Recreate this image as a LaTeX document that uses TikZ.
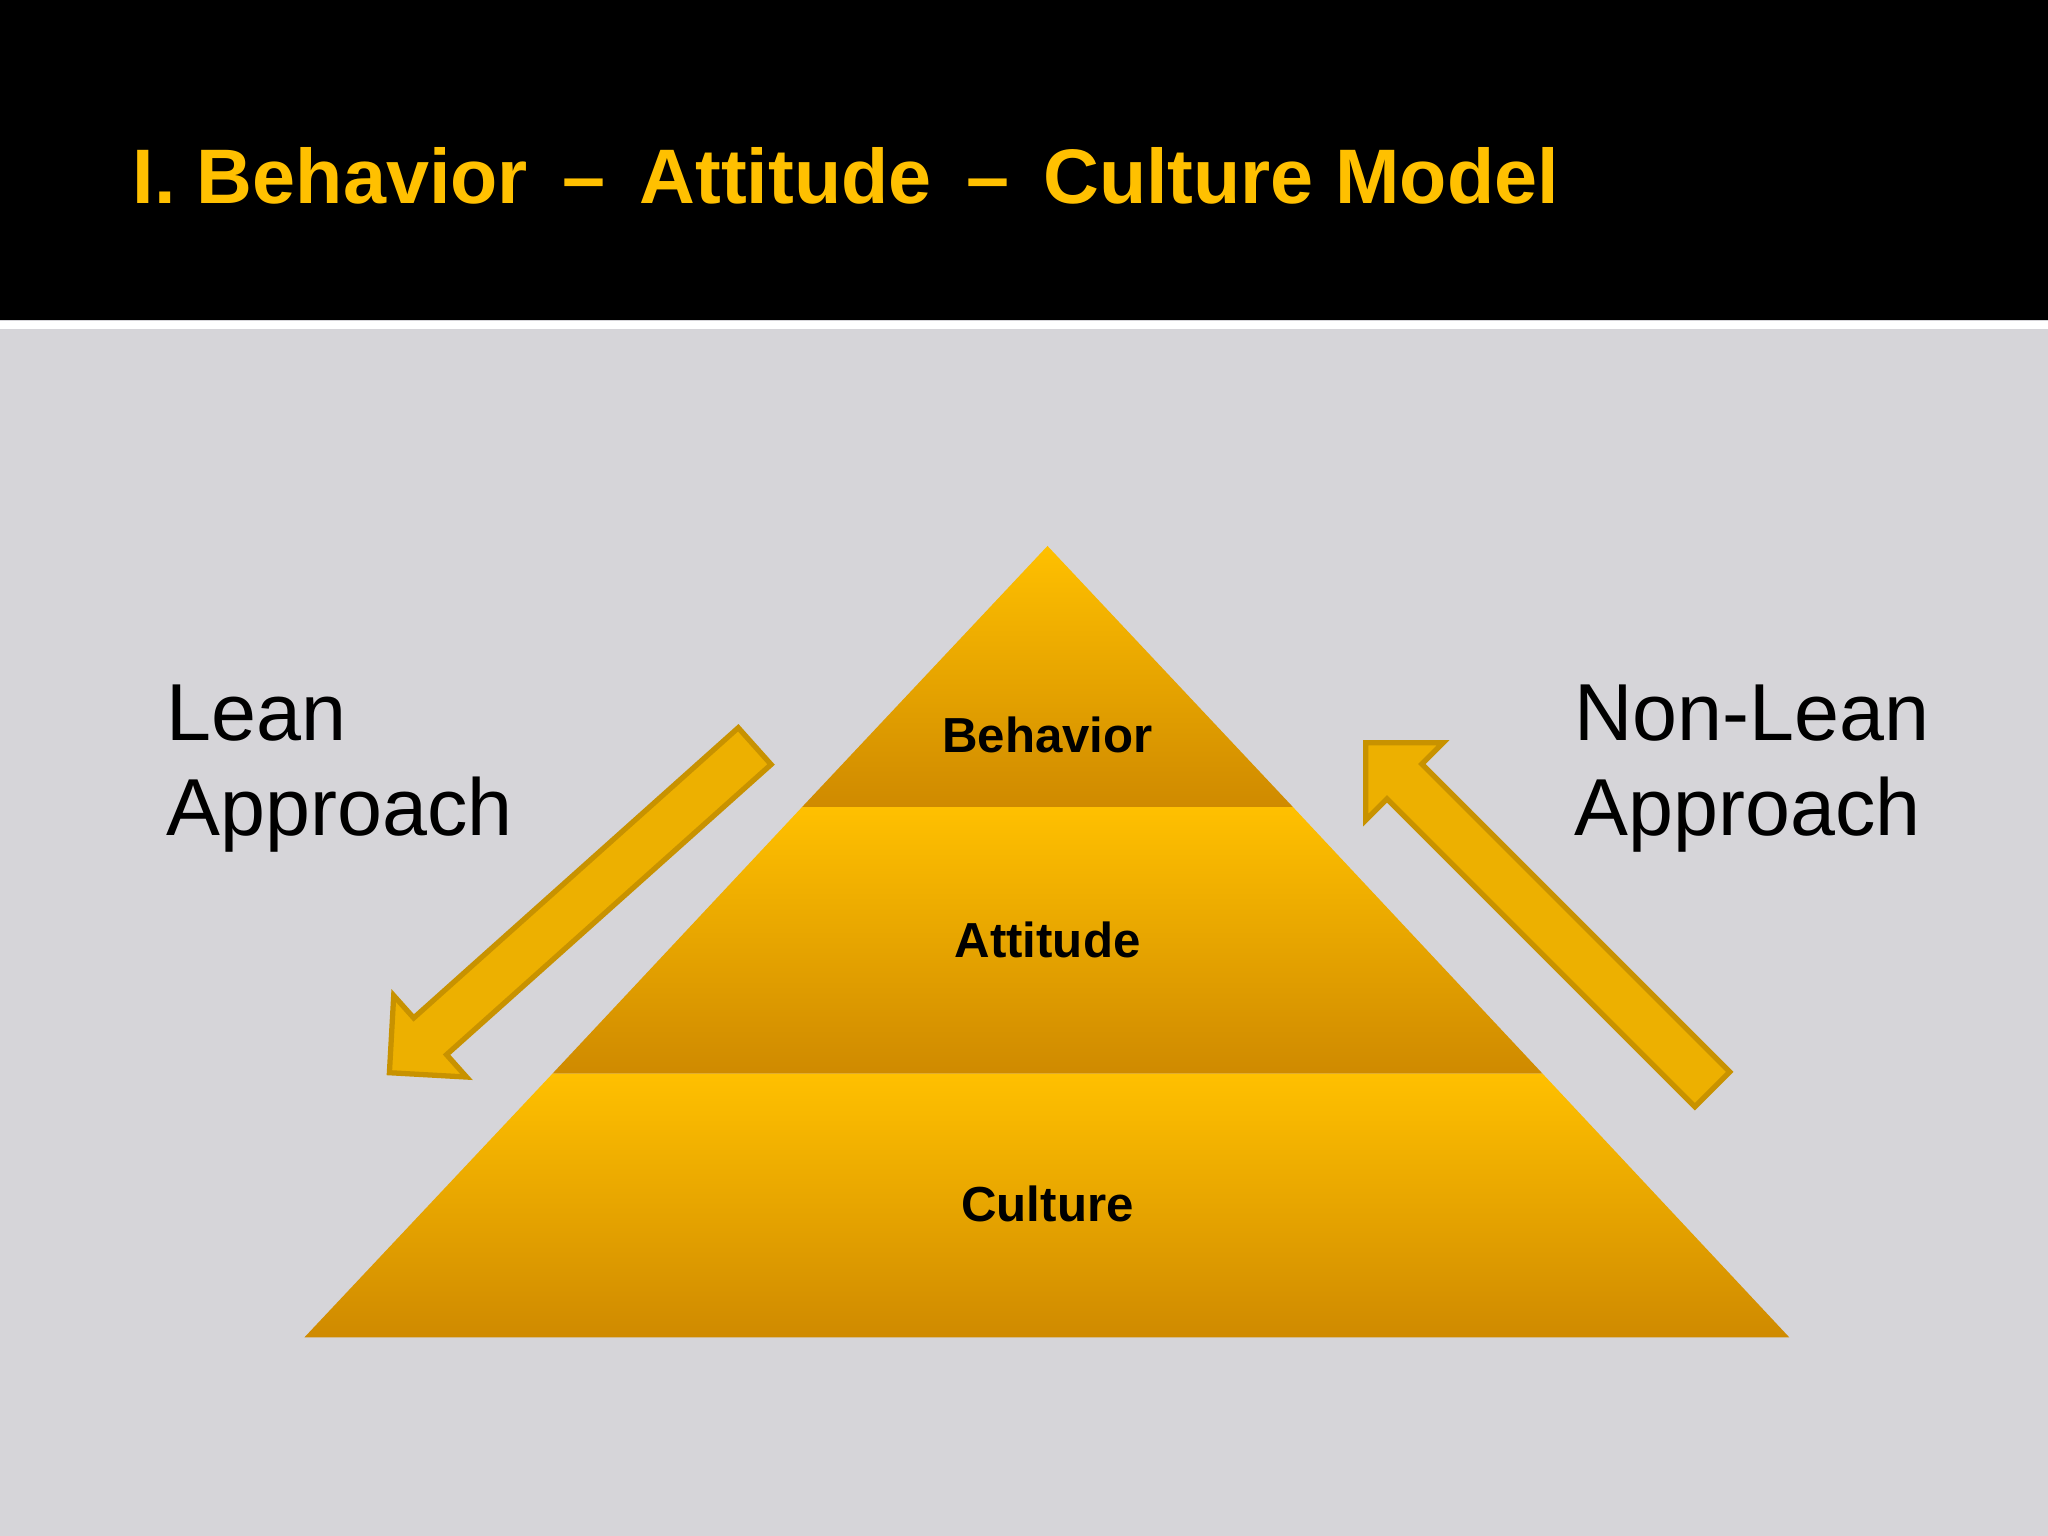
\documentclass[tikz,border=0pt]{standalone}
\usepackage{fontspec}
\setmainfont{Liberation Sans}
\usetikzlibrary{shapes.arrows}
\definecolor{bgrey}{HTML}{D6D5D9}
\definecolor{gold}{HTML}{FFC000}
\definecolor{darkgold}{HTML}{CF8A00}
\definecolor{arrowgold}{HTML}{EDB000}
\definecolor{arrowline}{HTML}{C89200}
\tikzset{
  layer/.style={top color=gold, bottom color=darkgold, draw=none},
  layerlabel/.style={font=\bfseries\fontsize{14}{17}\selectfont, text=black},
  sidelabel/.style={font=\fontsize{23}{27}\selectfont, align=left, anchor=north west, text=black},
  blockarrow/.style={single arrow, draw=arrowline, line width=1.5pt, fill=arrowgold,
    minimum height=4.9cm, inner xsep=0pt, inner ysep=0.22cm, single arrow head extend=0.3cm,
    single arrow head indent=0pt}
}
\begin{document}
\begin{tikzpicture}[x=0.01306cm, y=-0.01306cm]
\useasboundingbox (0,0) rectangle (1568,1176);
% background and title band
\fill[bgrey] (0,0) rectangle (1568,1176);
\fill[black] (0,0) rectangle (1568,245);
\fill[white] (0,246) rectangle (1568,252);
\node[anchor=west, text=gold, font=\bfseries\fontsize{22}{26}\selectfont] (title) at (92,135)
  {I.\ Behavior \,--\,\ Attitude \,--\,\ Culture Model};
% pyramid
\shade[layer] (802,418) -- (990,618) -- (614,618) -- cycle;
\shade[layer] (614,618) -- (990,618) -- (1181,822) -- (423,822) -- cycle;
\shade[layer] (423,822) -- (1181,822) -- (1370,1024) -- (233,1024) -- cycle;
\node[layerlabel] (behavior) at (802,563) {Behavior};
\node[layerlabel] (attitude) at (802,720) {Attitude};
\node[layerlabel] (culture) at (802,922) {Culture};
% approaches
\node[sidelabel] (lean) at (118,515) {Lean\\Approach};
\node[sidelabel] (nonlean) at (1196,515) {Non-Lean\\Approach};
\node[blockarrow, rotate=221.8] (down) at (445,690) {};
\node[blockarrow, rotate=135] (up) at (1185,708) {};
\end{tikzpicture}
\end{document}
